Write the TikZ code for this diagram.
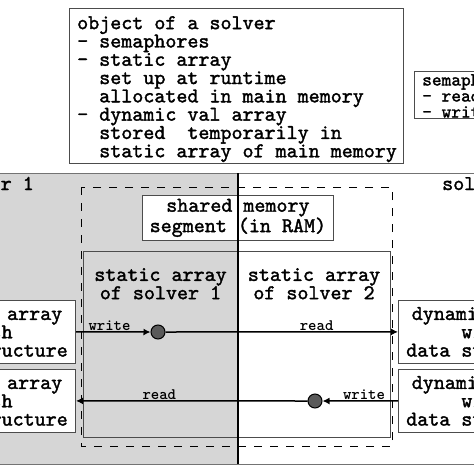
\documentclass[tikz,border=0pt]{standalone}
\usepackage{fontspec}
\newfontfamily\cour{lmmono10-regular.otf}[FakeBold=1.6]
\newfontfamily\courb{lmmonolt10-bold.otf}
\usetikzlibrary{arrows.meta}
\definecolor{bggray}{RGB}{214,214,214}
\definecolor{semgray}{RGB}{90,90,90}
\begin{document}
\begin{tikzpicture}[x=1pt,y=-1pt,
  txt/.style={font=\fontsize{21}{18.3}\selectfont\cour},
  smalltxt/.style={font=\fontsize{18.5}{16}\selectfont\cour},
  lab/.style={font=\fontsize{16}{14}\selectfont\courb, inner sep=1pt},
  box/.style={draw=black!70, line width=0.8pt, fill=white},
  conn/.style={line width=1.5pt, -{Latex[length=7pt,width=7pt]}},
  sem/.style={circle, draw=black, fill=semgray, line width=1pt, minimum size=14pt, inner sep=0pt}]
\useasboundingbox (0,0) rectangle (474,474);
\clip (0,0) rectangle (474,474);

% top object box
\node[box, anchor=north west, minimum width=334pt, minimum height=155pt, inner sep=0pt] (obj) at (69,8) {};
\node[txt, anchor=north west, inner sep=0pt, align=left] (objt) at (77,16)
  {object of a solver\\- semaphores\\- static array\\\phantom{- }set up at runtime\\\phantom{- }allocated in main memory\\- dynamic val array\\\phantom{- }stored~~temporarily in\\\phantom{- }static array of main memory};

% semaphores box
\node[box, anchor=north west, minimum width=80pt, minimum height=47pt, inner sep=0pt] (semb) at (414,71) {};
\node[smalltxt, anchor=north west, inner sep=0pt, align=left] (sembt) at (422,74)
  {semaphores\\- read\\- write};

% solver areas
\fill[bggray] (-2,173) rectangle (238,464);
\draw[black!55, line width=0.8pt] (-2,173) rectangle (476,464);
\node[txt, anchor=base east, inner sep=0pt] (s1) at (34,190) {solver 1};
\node[txt, anchor=base west, inner sep=0pt] (s2) at (442,190) {solver 2};

% dashed shared region
\draw[line width=0.8pt, dash pattern=on 8pt off 8pt] (81,187) rectangle (392,446);

% static arrays
\node[draw=black!70, line width=0.8pt, fill=bggray, anchor=north west, minimum width=155pt, minimum height=186pt, inner sep=0pt] (sa1) at (83,251) {};
\node[draw=black!70, line width=0.8pt, fill=white, anchor=north west, minimum width=152pt, minimum height=186pt, inner sep=0pt] (sa2) at (238,251) {};
\node[txt, align=center, inner sep=0pt, anchor=north] (sa1t) at (160.5,268) {static array\\of solver 1};
\node[txt, align=center, inner sep=0pt, anchor=north] (sa2t) at (314,268) {static array\\of solver 2};

% shared memory box
\node[box, txt, align=center, anchor=north west, minimum width=191pt, minimum height=45pt, inner sep=0pt] (shm) at (142,195) {shared memory\\segment (in RAM)};

% divider
\draw[line width=1.6pt] (238,173) -- (238,464);

% dynamic arrays
\node[box, txt, align=center, anchor=north east, minimum width=170pt, minimum height=63pt, inner sep=0pt] (dl1) at (76,300) {dynamic array\\with\\data structure};
\node[box, txt, align=center, anchor=north east, minimum width=170pt, minimum height=63pt, inner sep=0pt] (dl2) at (76,369) {dynamic array\\with\\data structure};
\node[box, txt, align=center, anchor=north west, minimum width=170pt, minimum height=63pt, inner sep=0pt] (dr1) at (398,300) {dynamic array\\with\\data structure};
\node[box, txt, align=center, anchor=north west, minimum width=170pt, minimum height=63pt, inner sep=0pt] (dr2) at (398,369) {dynamic array\\with\\data structure};

% semaphores
\node[sem] (c1) at (158,332) {};
\node[sem] (c2) at (315,401) {};

% connectors
\draw[conn] (dl1.east) -- node[lab, above, pos=0.45] {write} (c1.west);
\draw[conn] (c1.east) -- node[lab, above, pos=0.65] {read} (dr1.west);
\draw[conn] (dr2.west) -- node[lab, above, pos=0.45] {write} (c2.east);
\draw[conn] (c2.west) -- node[lab, above, pos=0.64] {read} (dl2.east);
\end{tikzpicture}
\end{document}
